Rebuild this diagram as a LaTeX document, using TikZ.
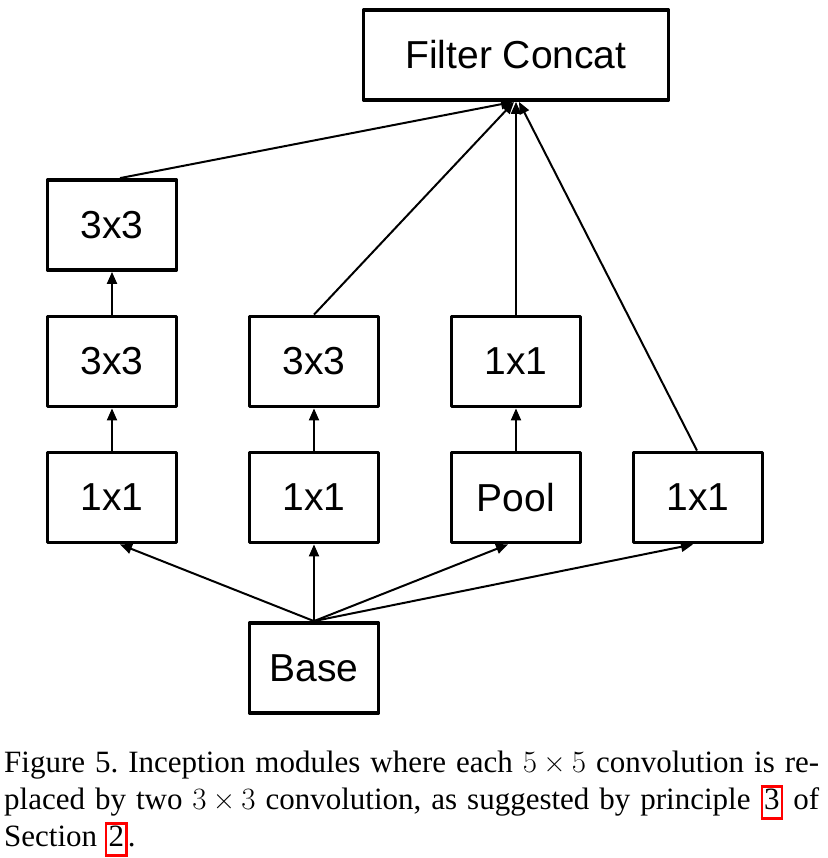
\documentclass[tikz,border=0pt]{standalone}
\usepackage{fontspec}
\newfontfamily\boxfont{Liberation Sans}
\newfontfamily\capfont{Liberation Serif}
\usetikzlibrary{arrows.meta}
\newcommand\linkbox[1]{{\setlength\fboxsep{0pt}\setlength\fboxrule{2.5bp}\fcolorbox{red}{white}{\kern1.2bp\rule[-8bp]{0pt}{29.5bp}#1\kern1.2bp}}}
\newcommand\dimby[2]{{\rmfamily #1\hspace{0.2em}×\hspace{0.2em}#2}}
\tikzset{
  blk/.style={draw, line width=3.8bp, line join=round, minimum width=129bp, minimum height=90bp, inner sep=0pt,
    font=\boxfont\fontsize{39bp}{44bp}\selectfont},
  conn/.style={line width=2bp, -{Triangle[length=12bp,width=10bp]}},
  captxt/.style={anchor=base west, inner sep=0pt, font=\capfont\fontsize{31bp}{37bp}\selectfont\frenchspacing}
}
\begin{document}
\begin{tikzpicture}[x=1bp,y=-1bp]
\useasboundingbox (0,0) rectangle (828,858);
\node[blk, minimum width=305bp] (fc) at (516,55) {Filter Concat};
\node[blk] (a1) at (112,225) {3x3};
\node[blk] (a2) at (112,361.5) {3x3};
\node[blk] (b2) at (314,361.5) {3x3};
\node[blk] (c2) at (516,361.5) {1x1};
\node[blk] (a3) at (112,497.5) {1x1};
\node[blk] (b3) at (314,497.5) {1x1};
\node[blk] (c3) at (516,497.5) {Pool};
\node[blk] (d3) at (698,497.5) {1x1};
\node[blk] (base) at (314,668) {Base};
% to filter concat
\draw[conn] ([xshift=8bp]a1.north) -- ([xshift=-3bp]fc.south);
\draw[conn] (b2.north) -- ([xshift=-2bp]fc.south);
\draw[conn] (c2.north) -- (c2.north |- fc.south);
\draw[conn] ([xshift=-1bp]d3.north) -- ([xshift=3bp]fc.south);
% vertical chains
\draw[conn] (a2.north) -- (a1.south);
\draw[conn] (a3.north) -- (a2.south);
\draw[conn] (b3.north) -- (b2.south);
\draw[conn] (c3.north) -- (c2.south);
% from base
\draw[conn] (base.north) -- ([xshift=8bp]a3.south);
\draw[conn] (base.north) -- (b3.south);
\draw[conn] (base.north) -- ([xshift=-8bp]c3.south);
\draw[conn] (base.north) -- ([xshift=-5bp]d3.south);
% caption
\node[captxt] (cap1) at (4,772) {\makebox[815bp][s]{Figure 5. Inception modules where each \dimby{5}{5} convolution is re-}};
\node[captxt] (cap2) at (4,809) {\makebox[815bp][s]{placed by two \dimby{3}{3} convolution, as suggested by principle \linkbox{3} of}};
\node[captxt] (cap3) at (4,846) {Section \linkbox{2}.};
\end{tikzpicture}
\end{document}
